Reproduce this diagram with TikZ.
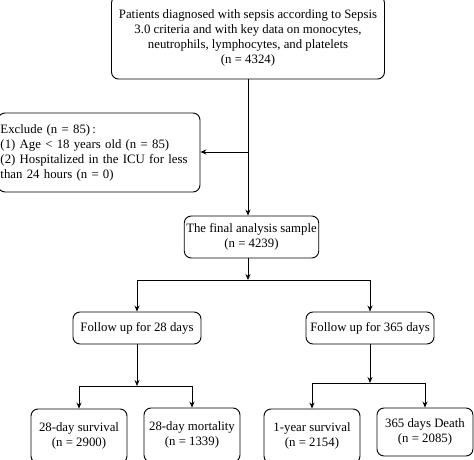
\documentclass[tikz,border=0pt]{standalone}
\usepackage{fontspec}
\setmainfont{Liberation Serif}
\usetikzlibrary{calc,arrows.meta,positioning}

\begin{document}
\begin{tikzpicture}[x=1pt,y=1pt,yscale=-1,xscale=1,
  box/.style = {draw, rounded corners=7pt, line width=0.9pt,
  font=\fontsize{12.8}{15}\selectfont, inner sep=2pt},
  line width=0.8pt,
  >={Stealth[length=6pt,width=5pt]}]
  \useasboundingbox (0,0) rectangle (474,460);
  \node[box, minimum width=273pt, minimum height=83pt, align=center] (pat) at (248,37.5)
    {Patients diagnosed with sepsis according to Sepsis\\3.0 criteria and with key data on monocytes,\\neutrophils, lymphocytes, and platelets\\(n = 4324)};
  \node[box, minimum width=202pt, minimum height=79pt, align=left, text width=197pt] (excl) at (99,152.5)
    {Exclude (n = 85)\,:\\(1) Age < 18 years old (n = 85)\\(2) Hospitalized in the ICU for less\\than 24 hours (n = 0)};
  \node[box, minimum width=133pt, minimum height=42pt, align=center] (final) at (251.5,237)
    {The final analysis sample\\(n = 4239)};
  \node[box, minimum width=128pt, minimum height=32pt] (fup28) at (137,328) {Follow up for 28 days};
  \node[box, minimum width=128pt, minimum height=32pt] (fup365) at (370,328) {Follow up for 365 days};
  \node[box, minimum width=96pt, minimum height=54pt, align=center] (surv28) at (79,436)
    {28-day survival\\(n = 2900)};
  \node[box, minimum width=96pt, minimum height=54pt, align=center] (mort28) at (192,435)
    {28-day mortality\\(n = 1339)};
  \node[box, minimum width=96pt, minimum height=54pt, align=center] (surv1y) at (312,436)
    {1-year survival\\(n = 2154)};
  \node[box, minimum width=96pt, minimum height=48pt, align=center] (death365) at (425,432)
    {365 days Death\\(n = 2085)};

  \coordinate (ex) at (248,152);
  \coordinate (sp) at (248,280);
  \coordinate (spl) at (137,386);
  \coordinate (spr) at (370,383);

  \draw[->] (pat.south) -- (pat.south |- final.north);
  \draw[->] (ex) -- (excl.east |- ex);
  \draw[->] (final.south -| sp) -- (sp);
  \draw (sp -| fup28) -- (sp -| fup365);
  \draw[->] (sp -| fup28) -- (fup28.north);
  \draw[->] (sp -| fup365) -- (fup365.north);
  % 28 days
  \draw[->] (fup28.south) -- (spl);
  \draw (spl -| surv28) -- (spl -| mort28);
  \draw[->] (spl -| surv28) -- (surv28.north);
  \draw[->] (spl -| mort28) -- (mort28.north);
  % 365 days
  \draw[->] (fup365.south) -- (spr);
  \draw (spr -| surv1y) -- (spr -| death365);
  \draw[->] (spr -| surv1y) -- (surv1y.north);
  \draw[->] (spr -| death365) -- (death365.north);
\end{tikzpicture}
\end{document}
